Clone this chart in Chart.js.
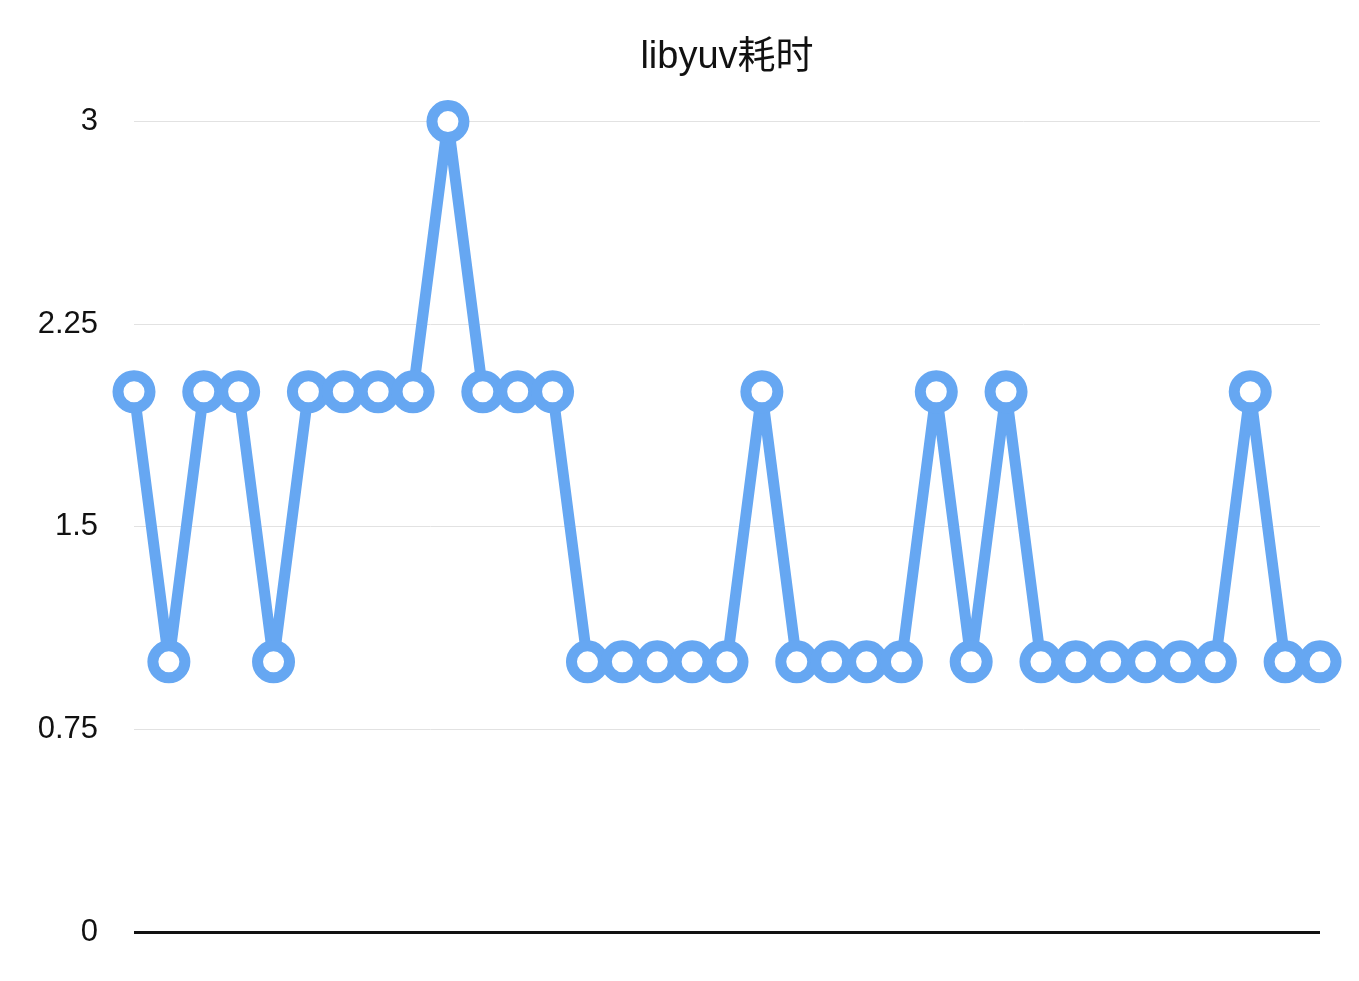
<!DOCTYPE html>
<html>
<head>
<meta charset="utf-8">
<script src="https://cdn.jsdelivr.net/npm/chart.js@4/dist/chart.umd.min.js"></script>
<style>
  html, body { margin: 0; padding: 0; background: #fff; }
  canvas { display: block; }
</style>
</head>
<body>
<canvas id="timeChart" width="1359" height="981"></canvas>
<script>
// libyuv timing samples
const chartTitle = 'libyuv耗时';
const labels = Array.from({ length: 35 }, (_, i) => String(i + 1));
const costs = [
    2, 1, 2, 2, 1, 2, 2, 2, 2, 3,
    2, 2, 2, 1, 1, 1, 1, 1, 2, 1,
    1, 1, 1, 2, 1, 2, 1, 1, 1, 1,
    1, 1, 2, 1, 1
];
const yTicks = [0, 0.75, 1.5, 2.25, 3];

const blue = '#66a7f2';
const fontFamily = '"Liberation Sans", "Noto Sans CJK SC", sans-serif';

// keep the title centred over the plot area, not the whole canvas
const centreTitle = {
    id: 'centreTitle',
    afterLayout(chart) {
        if (chart.titleBlock) {
            chart.titleBlock.left = chart.chartArea.left;
            chart.titleBlock.right = chart.chartArea.right;
        }
    }
};

new Chart(document.getElementById('timeChart').getContext('2d'), {
    type: 'line',
    data: {
        labels: labels,
        datasets: [{
            label: chartTitle,
            data: costs,
            borderColor: blue,
            borderWidth: 11,
            borderJoinStyle: 'round',
            pointRadius: 16,
            pointBorderWidth: 11,
            pointBackgroundColor: '#fff',
            pointBorderColor: blue,
            tension: 0,
            clip: false
        }]
    },
    plugins: [centreTitle],
    options: {
        responsive: false,
        animation: false,
        devicePixelRatio: 1,
        layout: {
            padding: { top: 0, left: 0, right: 39, bottom: 49 }
        },
        plugins: {
            legend: { display: false },
            tooltip: { enabled: false },
            title: {
                display: true,
                text: chartTitle,
                color: '#111',
                font: { family: fontFamily, size: 38, weight: 'normal', lineHeight: 1.2 },
                padding: { top: 35, bottom: 41 }
            }
        },
        scales: {
            x: {
                display: false,
                offset: false
            },
            y: {
                min: 0,
                max: 3,
                afterBuildTicks: axis => {
                    axis.ticks = yTicks.map(v => ({ value: v }));
                },
                afterFit: axis => { axis.width = 134; },
                border: { display: false },
                grid: {
                    drawTicks: true,
                    tickLength: 36,
                    tickColor: 'rgba(0,0,0,0)',
                    color: ctx => ctx.tick.value === 0 ? '#111' : '#e2e2e2',
                    lineWidth: ctx => ctx.tick.value === 0 ? 3 : 1
                },
                ticks: {
                    padding: 0,
                    color: '#111',
                    font: { family: fontFamily, size: 31 },
                    callback: value => String(value)
                }
            }
        }
    }
});
</script>
</body>
</html>
